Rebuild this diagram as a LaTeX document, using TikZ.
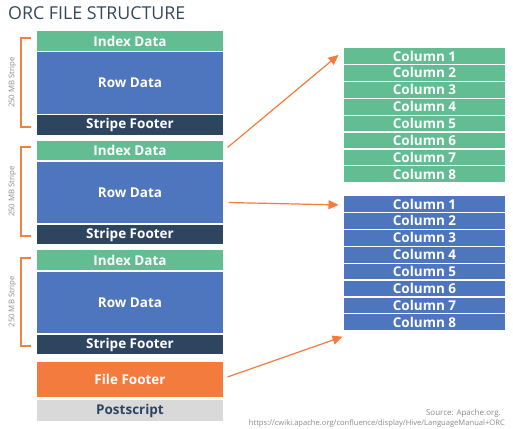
\documentclass[tikz,border=0pt]{standalone}
\usepackage{fontspec}
\setmainfont{Open Sans}
\usetikzlibrary{arrows.meta}
\definecolor{cgreen}{HTML}{62BE92}
\definecolor{cblue}{HTML}{4E76BE}
\definecolor{cdark}{HTML}{2E4560}
\definecolor{corange}{HTML}{F47B3E}
\definecolor{cgray}{HTML}{D9D9D9}
\definecolor{ctitle}{HTML}{34495E}
\definecolor{cbrk}{HTML}{F2803F}
\definecolor{csrc}{HTML}{8A8A8A}
\tikzset{
  blk/.style={inner sep=0pt, outer sep=0pt, minimum width=187pt, text=white,
     draw=white, line width=1.2pt,
     font=\fontsize{13.5}{13.5}\selectfont\bfseries},
  colbox/.style={inner sep=0pt, outer sep=0pt, minimum width=162pt, minimum height=16.9pt,
     draw=white, line width=1.2pt,
     text=white, font=\fontsize{13.5}{13.5}\selectfont\bfseries},
  conn/.style={draw=corange, line width=1.2pt, -{Triangle[length=10pt,width=9pt]}},
  brk/.style={draw=cbrk, line width=1.3pt},
  brklabel/.style={rotate=90, text=csrc, font=\fontsize{7.8}{7.8}\selectfont, inner sep=0pt},
}
\begin{document}
\begin{tikzpicture}[x=1pt,y=-1pt]
\useasboundingbox (0,0) rectangle (513,428);
\node[anchor=west, text=ctitle, font=\fontsize{17.8}{17.8}\selectfont, inner sep=0pt] (title) at (8,13) {ORC FILE STRUCTURE};
% stripe 1
\node[blk, fill=cgreen, minimum height=21pt] (i1) at (130,41) {Index Data};
\node[blk, fill=cblue, minimum height=63pt] (r1) at (130,83) {Row Data};
\node[blk, fill=cdark, minimum height=21pt] (f1) at (130,125) {Stripe Footer};
% stripe 2
\node[blk, fill=cgreen, minimum height=21pt] (i2) at (130,150.5) {Index Data};
\node[blk, fill=cblue, minimum height=63pt] (r2) at (130,192.5) {Row Data};
\node[blk, fill=cdark, minimum height=21pt] (f2) at (130,234.5) {Stripe Footer};
% stripe 3
\node[blk, fill=cgreen, minimum height=21pt] (i3) at (130,260) {Index Data};
\node[blk, fill=cblue, minimum height=63pt] (r3) at (130,302.5) {Row Data};
\node[blk, fill=cdark, minimum height=21pt] (f3) at (130,344.5) {Stripe Footer};
% footer and postscript
\node[blk, fill=corange, minimum height=36pt] (ff) at (130,379.5) {File Footer};
\node[blk, fill=cgray, minimum height=22pt, text=cdark] (ps) at (130,410.5) {Postscript};
% brackets
\foreach \t/\b/\n in {38/127/1, 147/236/2, 258/346/3}{
  \draw[brk] (31,\t) -- (21,\t) -- (21,\b) -- (31,\b);
  \node[brklabel] (bl\n) at (12.5,{(\t+\b)/2}) {250 MB Stripe};
}
% right columns
\foreach \k in {1,...,8}{
  \node[colbox, fill=cgreen] (g\k) at (424.5,{47.5+8.45+(\k-1)*16.9}) {Column \k};
  \node[colbox, fill=cblue] (b\k) at (424.5,{195.5+8.45+(\k-1)*16.9}) {Column \k};
}
% arrows
\draw[conn] ([xshift=4pt,yshift=3pt]i2.east) -- ([xshift=-5pt,yshift=1pt]g1.west);
\draw[conn] ([xshift=5pt,yshift=-10pt]r2.east) -- ([xshift=-5pt,yshift=-1pt]b1.west);
\draw[conn] ([xshift=4pt,yshift=2.5pt]ff.east) -- ([xshift=-1pt,yshift=-6pt]b8.south west);
% source
\node[anchor=east, text=csrc, font=\fontsize{8}{8}\selectfont, inner sep=0pt] (src) at (501,413) {Source: Apache.org.};
\node[anchor=east, text=csrc, font=\fontsize{7.6}{7.6}\selectfont, inner sep=0pt] (url) at (505,423.5) {https://cwiki.apache.org/confluence/display/Hive/LanguageManual+ORC};
\end{tikzpicture}
\end{document}
